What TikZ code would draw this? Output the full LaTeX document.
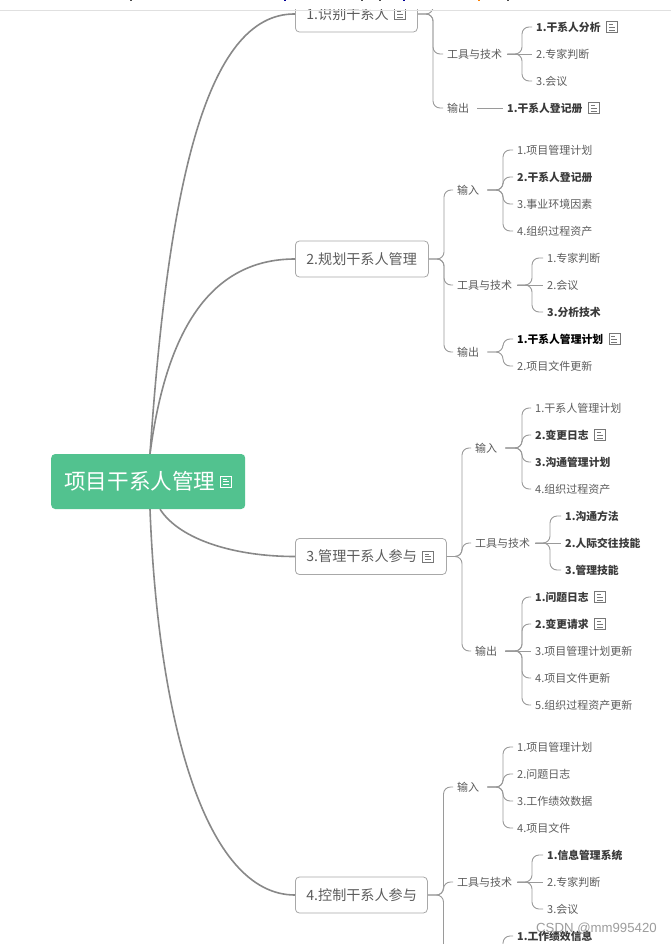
\documentclass[tikz,border=0pt]{standalone}
\usepackage{fontspec}
\setmainfont{Noto Sans CJK SC}
\newfontfamily\wmfont{Liberation Sans}
\definecolor{linec}{HTML}{9A9A9A}
\definecolor{mainc}{HTML}{888888}
\definecolor{textc}{HTML}{5C5C5C}
\definecolor{boldc}{HTML}{3A3A3A}
\definecolor{rootc}{HTML}{52C28F}
\definecolor{boxc}{HTML}{A8A8A8}
\definecolor{iconc}{HTML}{777777}
\tikzset{
 leaf/.style={anchor=west,inner xsep=0pt,inner ysep=1pt,text=textc,font=\fontsize{11}{13}\selectfont},
 leafb/.style={leaf,text=boldc,font=\fontsize{10.8}{13}\selectfont\bfseries},
 box/.style={anchor=west,draw=boxc,fill=white,line width=0.8pt,rounded corners=4pt,text=textc,minimum height=36pt,inner xsep=11pt,inner ysep=0pt,align=left,font=\fontsize{14.1}{17}\selectfont},
 rootbox/.style={anchor=west,fill=rootc,rounded corners=4pt,text=white,minimum height=55pt,inner xsep=13pt,inner ysep=0pt,align=left,font=\fontsize{21.6}{25}\selectfont},
 conn/.style={draw=linec,line width=0.9pt,rounded corners=7pt},
 main/.style={draw=mainc,line width=1.6pt},
 pics/noteicon/.style={code={
   \draw[#1,line width=0.7pt] (0,-5.5) rectangle (11,5.5);
   \draw[#1,line width=0.7pt] (2.5,-2.5) -- (6.5,-2.5) (2.5,0.3) -- (8.5,0.3) (2.5,3) -- (8.5,3);
 }},
 pics/noteicon/.default=iconc
}
% bracket connector: parent, child, trunk x, gap after parent
\newcommand{\brch}[4]{\coordinate (tk) at (#3,0);
 \draw[conn] ([xshift=#4]#1.east) -- (#1.east -| tk) |- ([xshift=-4pt]#2.west);}
\newcommand{\strt}[3]{\draw[conn] ([xshift=#3]#1.east) -- ([xshift=-4pt]#2.west);}
\newcommand{\noteat}[1]{\path ([xshift=5.5pt]#1.east) pic {noteicon};}
\begin{document}
\begin{tikzpicture}[x=1pt,y=-1pt]
\useasboundingbox (0,0) rectangle (671,944);
\fill[white] (0,0) rectangle (671,944);
\begin{scope}
\clip (0,10) rectangle (671,944);
% first level nodes
\node[rootbox,text width=168pt] (root) at (51,481.5) {\raisebox{-0.5pt}{项目干系人管理}};
\node[box,text width=100pt] (n1) at (295,14) {1.识别干系人};
\node[box,text width=111pt] (n2) at (295,259) {2.规划干系人管理};
\node[box,text width=129pt] (n3) at (295,556.5) {3.管理干系人参与};
\node[box,text width=110pt] (n4) at (295,895) {4.控制干系人参与};
\draw[main] ([xshift=99pt]root.north west) .. controls (168,190) and (205,13) .. (n1.west);
\draw[main] ([xshift=99pt]root.north west) .. controls (165,340) and (205,259) .. (n2.west);
\draw[main] ([xshift=109pt]root.south west) .. controls (180,540) and (235,556.5) .. (n3.west);
\draw[main] ([xshift=99pt]root.south west) .. controls (158,720) and (205,895) .. (n4.west);
\path ([xshift=-25pt]root.east) pic {noteicon=white};
\path ([xshift=-23pt,yshift=0pt]n1.east) pic {noteicon};
\path ([xshift=-24pt]n3.east) pic {noteicon};
% group 1
\coordinate (g1i) at (447,-20);
\node[leaf] (g1t) at (447,54) {工具与技术};
\node[leaf] (g1o) at (447,108) {输出};
\node[leafb] (g1t1) at (536,27) {1.干系人分析};
\node[leaf] (g1t2) at (536,54) {2.专家判断};
\node[leaf] (g1t3) at (536,81) {3.会议};
\node[leafb] (g1o1) at (507,108) {1.干系人登记册};
\coordinate (tk1) at (433,0);
\draw[conn] (n1.east) -- (n1.east -| tk1) |- (g1i);
\brch{n1}{g1t}{433}{0pt}
\brch{n1}{g1o}{433}{0pt}
\brch{g1t}{g1t1}{522}{5pt}
\strt{g1t}{g1t2}{5pt}
\brch{g1t}{g1t3}{522}{5pt}
\strt{g1o}{g1o1}{8pt}
\noteat{g1t1}\noteat{g1o1}
% group 2
\node[leaf] (g2i) at (457,190) {输入};
\node[leaf] (g2t) at (457,285) {工具与技术};
\node[leaf] (g2o) at (457,352) {输出};
\node[leaf] (g2i1) at (517,150) {1.项目管理计划};
\node[leafb] (g2i2) at (517,177) {2.干系人登记册};
\node[leaf] (g2i3) at (517,204) {3.事业环境因素};
\node[leaf] (g2i4) at (517,231) {4.组织过程资产};
\node[leaf] (g2t1) at (547,258) {1.专家判断};
\node[leaf] (g2t2) at (547,285) {2.会议};
\node[leafb] (g2t3) at (547,312) {3.分析技术};
\node[leafb,text=black] (g2o1) at (517,339) {1.干系人管理计划};
\node[leaf] (g2o2) at (517,366) {2.项目文件更新};
\brch{n2}{g2i}{444}{0pt}
\brch{n2}{g2t}{444}{0pt}
\brch{n2}{g2o}{444}{0pt}
\brch{g2i}{g2i1}{503}{8pt}
\brch{g2i}{g2i2}{503}{8pt}
\brch{g2i}{g2i3}{503}{8pt}
\brch{g2i}{g2i4}{503}{8pt}
\brch{g2t}{g2t1}{532}{5pt}
\strt{g2t}{g2t2}{5pt}
\brch{g2t}{g2t3}{532}{5pt}
\brch{g2o}{g2o1}{503}{8pt}
\brch{g2o}{g2o2}{503}{8pt}
\noteat{g2o1}
% group 3
\node[leaf] (g3i) at (475,448) {输入};
\node[leaf] (g3t) at (475,543) {工具与技术};
\node[leaf] (g3o) at (475,651) {输出};
\node[leaf] (g3i1) at (535,408) {1.干系人管理计划};
\node[leafb] (g3i2) at (535,435) {2.变更日志};
\node[leafb] (g3i3) at (535,462) {3.沟通管理计划};
\node[leaf] (g3i4) at (535,489) {4.组织过程资产};
\node[leafb] (g3t1) at (565,516) {1.沟通方法};
\node[leafb] (g3t2) at (565,543) {2.人际交往技能};
\node[leafb] (g3t3) at (565,570) {3.管理技能};
\node[leafb] (g3o1) at (535,597) {1.问题日志};
\node[leafb] (g3o2) at (535,624) {2.变更请求};
\node[leaf] (g3o3) at (535,651) {3.项目管理计划更新};
\node[leaf] (g3o4) at (535,678) {4.项目文件更新};
\node[leaf] (g3o5) at (535,705) {5.组织过程资产更新};
\brch{n3}{g3i}{462}{0pt}
\brch{n3}{g3t}{462}{0pt}
\brch{n3}{g3o}{462}{0pt}
\brch{g3i}{g3i1}{522}{8pt}
\brch{g3i}{g3i2}{522}{8pt}
\brch{g3i}{g3i3}{522}{8pt}
\brch{g3i}{g3i4}{522}{8pt}
\brch{g3t}{g3t1}{550}{5pt}
\strt{g3t}{g3t2}{5pt}
\brch{g3t}{g3t3}{550}{5pt}
\brch{g3o}{g3o1}{522}{8pt}
\brch{g3o}{g3o2}{522}{8pt}
\strt{g3o}{g3o3}{8pt}
\brch{g3o}{g3o4}{522}{8pt}
\brch{g3o}{g3o5}{522}{8pt}
\noteat{g3i2}\noteat{g3o1}\noteat{g3o2}
% group 4
\node[leaf] (g4i) at (457,787) {输入};
\node[leaf] (g4t) at (457,882) {工具与技术};
\coordinate (g4o) at (457,1000);
\node[leaf] (g4i1) at (517,747) {1.项目管理计划};
\node[leaf] (g4i2) at (517,774) {2.问题日志};
\node[leaf] (g4i3) at (517,801) {3.工作绩效数据};
\node[leaf] (g4i4) at (517,828) {4.项目文件};
\node[leafb] (g4t1) at (547,855) {1.信息管理系统};
\node[leaf] (g4t2) at (547,882) {2.专家判断};
\node[leaf] (g4t3) at (547,909) {3.会议};
\node[leafb] (g4o1) at (517,936) {1.工作绩效信息};
\coordinate (tk4) at (443.5,0);
\coordinate (tk4o) at (503,0);
\coordinate (g4oe) at (487,1000);
\brch{n4}{g4i}{443.5}{0pt}
\brch{n4}{g4t}{443.5}{0pt}
\draw[conn] (n4.east) -- (n4.east -| tk4) |- (g4o);
\brch{g4i}{g4i1}{503}{8pt}
\brch{g4i}{g4i2}{503}{8pt}
\brch{g4i}{g4i3}{503}{8pt}
\brch{g4i}{g4i4}{503}{8pt}
\brch{g4t}{g4t1}{532}{5pt}
\strt{g4t}{g4t2}{5pt}
\brch{g4t}{g4t3}{532}{5pt}
\draw[conn] (g4oe) -- (g4oe -| tk4o) |- ([xshift=-4pt]g4o1.west);
\end{scope}
% browser strip at the top
\draw[draw=black!12,line width=0.8pt] (0,10.5) -- (671,10.5);
\foreach \mx/\mc in {130/black!70,284/blue!60!black,361/black!70,379/black!70,403/blue!60!black,478/orange,507/black!70}
  \fill[\mc] (\mx,0) rectangle ++(2.2,1.2);
\node[anchor=west,inner sep=0pt,text=black!45,opacity=0.85,font=\wmfont\fontsize{13.2}{16}\selectfont] (wm) at (536,929) {CSDN @mm995420};
\end{tikzpicture}
\end{document}
